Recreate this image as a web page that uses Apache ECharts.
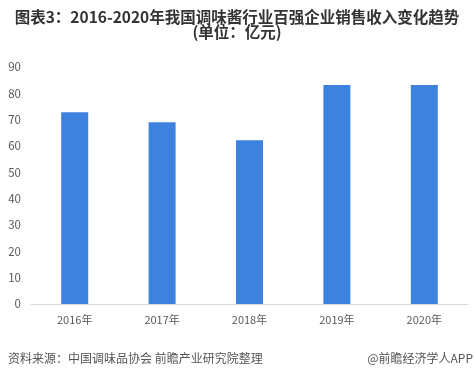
<!DOCTYPE html>
<html>
<head>
<meta charset="utf-8">
<script src="https://cdn.jsdelivr.net/npm/echarts@6/dist/echarts.min.js"></script>
<style>
  html, body { margin: 0; padding: 0; background: #fff; }
  #grid { width: 474px; height: 377px; }
</style>
</head>
<body>
<div id="grid"></div>
<script>
const years = ['2016年', '2017年', '2018年', '2019年', '2020年'];
const revenue = [72.8, 69.0, 62.2, 83.2, 83.2];
const yTicks = [0, 10, 20, 30, 40, 50, 60, 70, 80, 90];

const myChart = echarts.init(document.getElementById('grid'));

const option = {
  backgroundColor: '#fff',
  animation: false,
  title: {
    text: '图表3：2016-2020年我国调味酱行业百强企业销售收入变化趋势\n(单位：亿元)',
    left: 'center',
    top: 5,
    textStyle: {
      fontFamily: 'Noto Sans CJK SC',
      fontSize: 15.5,
      fontWeight: 'bold',
      color: '#333',
      lineHeight: 15,
    },
  },
  graphic: [
    {
      type: 'text',
      left: 8,
      top: 352,
      style: {
        text: '资料来源：中国调味品协会 前瞻产业研究院整理',
        font: '12px "Noto Sans CJK SC"',
        fill: '#555',
      },
    },
    {
      type: 'text',
      right: 1,
      top: 352,
      style: {
        text: '@前瞻经济学人APP',
        font: '12px "Noto Sans CJK SC"',
        fill: '#555',
      },
    },
  ],
  grid: {
    left: 31,
    right: 6,
    top: 67,
    bottom: 73,
  },
  xAxis: {
    type: 'category',
    data: years,
    axisLine: { show: true, lineStyle: { color: '#d9d9d9' } },
    axisTick: { show: false },
    axisLabel: {
      color: '#595959',
      fontSize: 11,
      margin: 10,
      fontFamily: 'Noto Sans CJK SC',
    },
  },
  yAxis: {
    type: 'value',
    min: yTicks[0],
    max: yTicks[yTicks.length - 1],
    interval: 10,
    axisLine: { show: false },
    axisTick: { show: false },
    splitLine: { show: false },
    axisLabel: {
      color: '#595959',
      fontSize: 11.5,
      margin: 10,
      fontFamily: 'Noto Sans CJK SC',
    },
  },
  series: [
    {
      type: 'bar',
      data: revenue,
      barWidth: 27,
      itemStyle: { color: '#3E82E0' },
    },
  ],
};

myChart.setOption(option);
</script>
</body>
</html>
